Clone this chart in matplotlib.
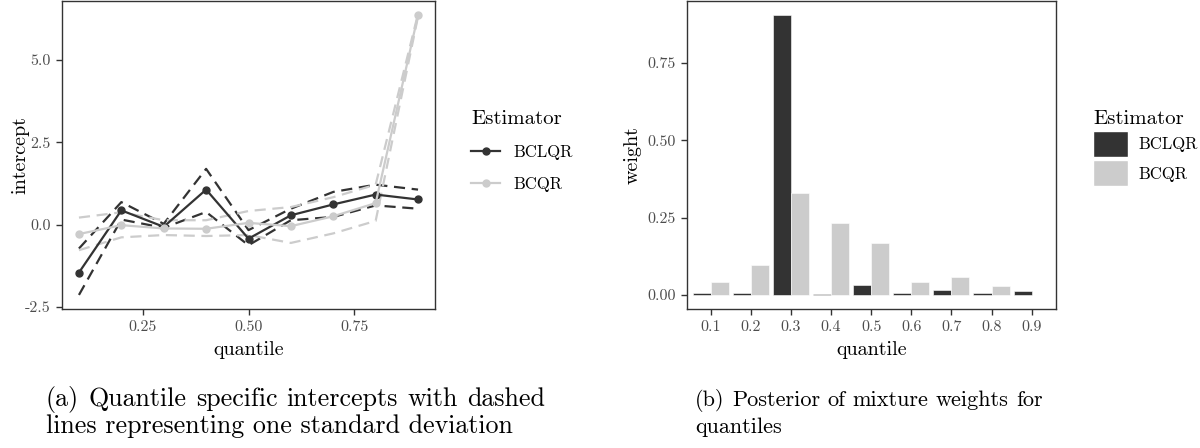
import numpy as np
import matplotlib
matplotlib.use("Agg")
import matplotlib.pyplot as plt
from matplotlib.lines import Line2D
from matplotlib.patches import Patch

plt.rcParams['font.family'] = ['cmr10', 'DejaVu Serif']
plt.rcParams['mathtext.fontset'] = 'cm'
plt.rcParams['axes.unicode_minus'] = False
plt.rcParams['axes.formatter.use_mathtext'] = True

# data
quantiles = [0.1, 0.2, 0.3, 0.4, 0.5, 0.6, 0.7, 0.8, 0.9]
estimators = ["BCLQR", "BCQR"]

bclqr_mean = [-1.46, 0.43, -0.07, 1.06, -0.43, 0.28, 0.61, 0.91, 0.76]
bclqr_upper = [-0.73, 0.68, 0.02, 1.69, -0.17, 0.48, 0.99, 1.21, 1.06]
bclqr_lower = [-2.14, 0.15, -0.10, 0.38, -0.63, 0.13, 0.23, 0.58, 0.48]

bcqr_mean = [-0.29, -0.02, -0.12, -0.13, 0.05, -0.05, 0.25, 0.65, 6.36]
bcqr_upper = [0.21, 0.37, 0.13, 0.13, 0.41, 0.53, 0.83, 1.21, 6.40]
bcqr_lower = [-0.78, -0.39, -0.32, -0.35, -0.32, -0.56, -0.27, 0.11, 6.32]

weight_labels = ["0.1", "0.2", "0.3", "0.4", "0.5", "0.6", "0.7", "0.8", "0.9"]
bclqr_weight = [0.007, 0.005, 0.904, 0.003, 0.032, 0.006, 0.017, 0.008, 0.013]
bcqr_weight = [0.042, 0.097, 0.330, 0.233, 0.167, 0.041, 0.057, 0.029, 0.001]

caption_a = ["(a) Quantile specific intercepts with dashed",
             "lines representing one standard deviation"]
caption_b = ["(b) Posterior of mixture weights for", "quantiles"]

dark = "#333333"
light = "#CCCCCC"
tick_col = "#4D4D4D"

W, H = 1200, 448
fig = plt.figure(figsize=(W / 100, H / 100), dpi=100)


def style_axes(ax):
    for s in ax.spines.values():
        s.set_color(dark)
        s.set_linewidth(1.0)
    ax.tick_params(direction='out', length=4, width=1.0, color=dark,
                   labelcolor=tick_col, labelsize=11.5, pad=4)


# (a) intercepts
ax1 = fig.add_axes([62 / W, 139 / H, 373 / W, 308 / H])
ax1.plot(quantiles, bclqr_mean, color=dark, lw=1.6, marker='o', ms=5, zorder=3)
ax1.plot(quantiles, bcqr_mean, color=light, lw=1.6, marker='o', ms=5, zorder=3)
for up, lo, c in [(bclqr_upper, bclqr_lower, dark), (bcqr_upper, bcqr_lower, light)]:
    ax1.plot(quantiles, up, color=c, lw=1.6, ls=(0, (5, 3)), zorder=2)
    ax1.plot(quantiles, lo, color=c, lw=1.6, ls=(0, (5, 3)), zorder=2)
ax1.set_xlim(0.06, 0.94)
ax1.set_ylim(-2.567, 6.79)
ax1.set_xticks([0.25, 0.5, 0.75])
ax1.set_xticklabels(["0.25", "0.50", "0.75"])
ax1.set_yticks([-2.5, 0, 2.5, 5.0])
ax1.set_yticklabels(["-2.5", "0.0", "2.5", "5.0"])
ax1.set_xlabel("quantile", fontsize=14.5, labelpad=5)
ax1.set_ylabel("intercept", fontsize=14.5, labelpad=-3)
style_axes(ax1)

h1 = [Line2D([], [], color=dark, lw=1.6, marker='o', ms=5),
      Line2D([], [], color=light, lw=1.6, marker='o', ms=5)]
leg1 = fig.legend(h1, estimators, title="Estimator", loc='upper left',
                  bbox_to_anchor=(456 / W, 1 - 95 / H), frameon=False,
                  fontsize=12, title_fontsize=15, handlelength=1.75,
                  handletextpad=0.8, labelspacing=1.0)
leg1._legend_box.align = "left"

# (b) mixture weights
ax2 = fig.add_axes([686.7 / W, 139 / H, 369 / W, 308 / H])
x = np.arange(len(weight_labels))
w = 0.45
ax2.bar(x - w / 2, bclqr_weight, width=w, color=dark, edgecolor='white', linewidth=0.4)
ax2.bar(x + w / 2, bcqr_weight, width=w, color=light, edgecolor='white', linewidth=0.4)
ax2.set_xlim(-0.6, len(weight_labels) - 0.4)
ax2.set_ylim(-0.0452, 0.9495)
ax2.set_xticks(x)
ax2.set_xticklabels(weight_labels)
ax2.set_yticks([0, 0.25, 0.5, 0.75])
ax2.set_yticklabels(["0.00", "0.25", "0.50", "0.75"])
ax2.set_xlabel("quantile", fontsize=14.5, labelpad=5)
ax2.set_ylabel("weight", fontsize=14.5, labelpad=4)
style_axes(ax2)

h2 = [Patch(facecolor=dark, edgecolor='white'), Patch(facecolor=light, edgecolor='white')]
leg2 = fig.legend(h2, estimators, title="Estimator", loc='upper left',
                  bbox_to_anchor=(1078 / W, 1 - 95 / H), frameon=False,
                  fontsize=12, title_fontsize=15, handlelength=2.1, handleheight=2.0,
                  handletextpad=0.65, labelspacing=0.2)
leg2._legend_box.align = "left"

# captions: first line justified between x0 and x1 (pixels), second line ragged
renderer = fig.canvas.get_renderer()


def justified_line(text, x0, x1, y, size):
    words = text.split()
    items = [fig.text(0, 1 - y / H, wd, fontsize=size, va='baseline', ha='left')
             for wd in words]
    widths = [t.get_window_extent(renderer).width for t in items]
    space = 0.33 * size * 100 / 72
    gap = max(space, (x1 - x0 - sum(widths)) / (len(words) - 1))
    pos = x0
    for t, wd in zip(items, widths):
        t.set_x(pos / W)
        pos += wd + gap


def caption(lines, x0, x1, size):
    justified_line(lines[0], x0, x1, 406, size)
    fig.text(x0 / W, 1 - 433 / H, lines[1], fontsize=size, va='baseline', ha='left')


caption(caption_a, 46, 545, 18.7)
caption(caption_b, 695, 1038, 16)

fig.savefig("out.png", dpi=100)
